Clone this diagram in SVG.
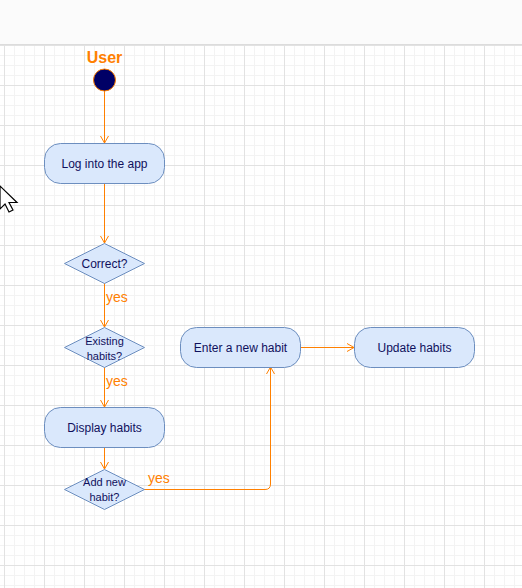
<svg xmlns="http://www.w3.org/2000/svg" width="522" height="588" viewBox="0 0 522 588">
<defs>
<pattern id="grid" x="4" y="5" width="40" height="40" patternUnits="userSpaceOnUse">
<path d="M10.5 0V40M20.5 0V40M30.5 0V40M0 10.5H40M0 20.5H40M0 30.5H40" stroke="#f3f3f3" stroke-width="1" fill="none"/>
<path d="M0.5 0V40M0 0.5H40" stroke="#e2e2e2" stroke-width="1" fill="none"/>
</pattern>
<marker id="arr" markerWidth="10" markerHeight="10" refX="8" refY="5" orient="auto" markerUnits="userSpaceOnUse">
<path d="M1 1L8 5L1 9" fill="none" stroke="#ff8000" stroke-width="1"/>
</marker>
<style>
.box{fill:#dae8fc;stroke:#6c8ebf;stroke-width:1}
.t{font-family:"Liberation Sans",Arial,sans-serif;font-size:12px;fill:#10105c;text-anchor:middle}
.ts{font-family:"Liberation Sans",Arial,sans-serif;font-size:11px;fill:#10105c;text-anchor:middle}
.e{fill:none;stroke:#ff8000;stroke-width:1;marker-end:url(#arr)}
.lbl{font-family:"Liberation Sans",Arial,sans-serif;font-size:14px;fill:#ff8000}
</style>
</defs>
<rect x="0" y="0" width="522" height="588" fill="#ffffff"/>
<rect x="0" y="44" width="522" height="544" fill="url(#grid)"/>
<rect x="0" y="0" width="522" height="44" fill="#fbfbfb"/>
<line x1="0" y1="44.5" x2="522" y2="44.5" stroke="#dcdcdc" stroke-width="1"/>

<g id="connectors">
<path class="e" d="M104.5 91V143"/>
<path class="e" d="M104.5 183V243"/>
<path class="e" d="M104.5 283V327"/>
<path class="e" d="M104.5 367V407"/>
<path class="e" d="M104.5 447V469"/>
<path class="e" d="M144 489.5H265Q270.5 489.5 270.5 484V367"/>
<path class="e" d="M300 347.5H354"/>
<text class="lbl" x="106" y="302">yes</text>
<text class="lbl" x="106" y="386">yes</text>
<text class="lbl" x="148" y="483">yes</text>
</g>

<g id="start">
<text x="104.5" y="63" style="font-family:'Liberation Sans',Arial,sans-serif;font-size:16px;font-weight:bold;fill:#ff8000;text-anchor:middle">User</text>
<circle cx="104.5" cy="80" r="11" fill="#000066" stroke="#ff8000" stroke-width="1"/>
</g>

<g id="login">
<rect class="box" x="44.5" y="143.5" width="120" height="40" rx="16"/>
<text class="t" x="104.5" y="168">Log into the app</text>
</g>

<g id="correct">
<path class="box" d="M104.5 243.5L144.5 263.5L104.5 283.5L64.5 263.5Z"/>
<text class="t" x="104.5" y="268">Correct?</text>
</g>

<g id="existing">
<path class="box" d="M104.5 327.5L144.5 347.5L104.5 367.5L64.5 347.5Z"/>
<text class="ts" x="104.5" y="345">Existing</text>
<text class="ts" x="104.5" y="360">habits?</text>
</g>

<g id="display">
<rect class="box" x="44.5" y="407.5" width="120" height="40" rx="16"/>
<text class="t" x="104.5" y="432">Display habits</text>
</g>

<g id="addnew">
<path class="box" d="M104.5 469.5L144.5 489.5L104.5 509.5L64.5 489.5Z"/>
<text class="ts" x="104.5" y="486">Add new</text>
<text class="ts" x="104.5" y="501">habit?</text>
</g>

<g id="enter">
<rect class="box" x="180.5" y="327.5" width="120" height="40" rx="16"/>
<text class="t" x="240.5" y="352">Enter a new habit</text>
</g>

<g id="update">
<rect class="box" x="354.5" y="327.5" width="120" height="40" rx="16"/>
<text class="t" x="414.5" y="352">Update habits</text>
</g>

<path d="M0 186L0 209L5 204L9 212L13 210L9 202.5L17 202.5Z" fill="#ffffff" stroke="#000000" stroke-width="1.2" stroke-linejoin="miter"/>
</svg>
